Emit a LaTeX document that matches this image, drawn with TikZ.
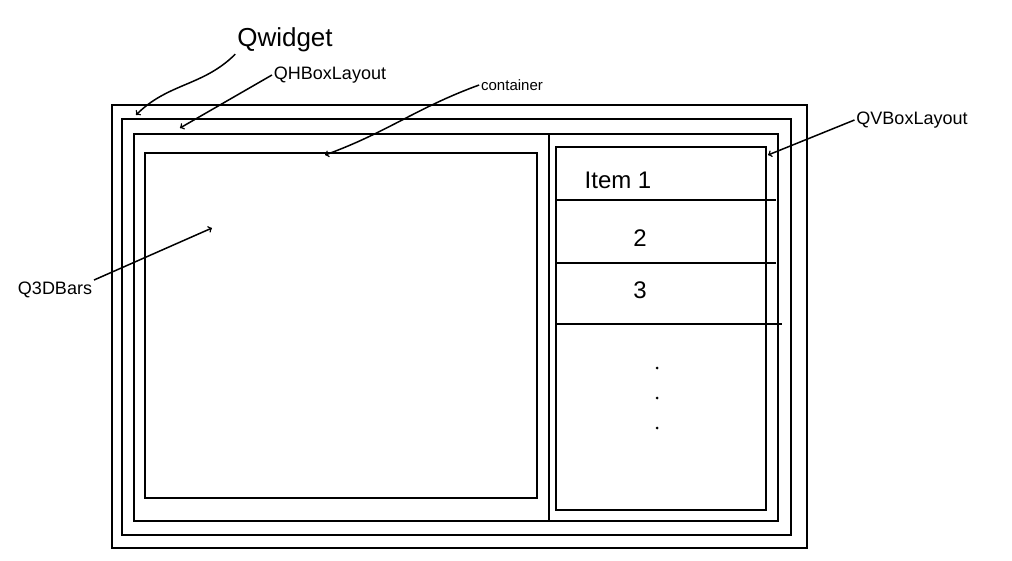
\documentclass[tikz,border=0pt]{standalone}
\usepackage{fontspec}
\setmainfont{Liberation Sans}
\begin{document}
\begin{tikzpicture}[x=1pt,y=-1pt,line width=2pt,
  lbl/.style={inner sep=1pt,font=\fontsize{18}{20}\selectfont},
  arr/.style={->,line width=1.5pt},
  dotm/.style={circle,fill,inner sep=0pt,minimum size=3pt}]
\useasboundingbox (0,0) rectangle (1012,560);
\draw (112,105) rectangle (807,548);
\draw (122,119) rectangle (791,535);
\draw (134,134) rectangle (778,521);
\draw (145,153) rectangle (537,498);
\draw (549,134) -- (549,521);
\draw (556,147) rectangle (766,510);
\draw (556,200) -- (776,200);
\draw (556,263) -- (776,263);
\draw (556,324) -- (782,324);
\node[lbl,font=\fontsize{26}{28}\selectfont] (qw) at (285,40) {Qwidget};
\node[lbl] (qh) at (330,75) {QHBoxLayout};
\node[lbl,font=\fontsize{15}{17}\selectfont] (ct) at (512,85) {container};
\node[lbl] (qv) at (912,120) {QVBoxLayout};
\node[lbl,font=\fontsize{24}{26}\selectfont] (i1) at (618,180) {Item 1};
\node[lbl,font=\fontsize{24}{26}\selectfont] (i2) at (640,238) {2};
\node[lbl,font=\fontsize{24}{26}\selectfont] (i3) at (640,290) {3};
\node[dotm] (d1) at (657,368) {};
\node[dotm] (d2) at (657,398) {};
\node[dotm] (d3) at (657,428) {};
\node[lbl] (q3) at (55,290) {Q3DBars};
\coordinate (a1) at (136,115);
\coordinate (a2) at (180,128);
\coordinate (a3) at (325,155);
\coordinate (a4) at (768,155);
\coordinate (a5) at (212,228);
\draw[arr] (qw.south west) to[out=225,in=45] (a1);
\draw[arr] (qh.west) -- (a2);
\draw[arr] (ct.west) to[out=200,in=20] (a3);
\draw[arr] (qv.west) -- (a4);
\draw[arr] (q3.north east) -- (a5);
\end{tikzpicture}
\end{document}
